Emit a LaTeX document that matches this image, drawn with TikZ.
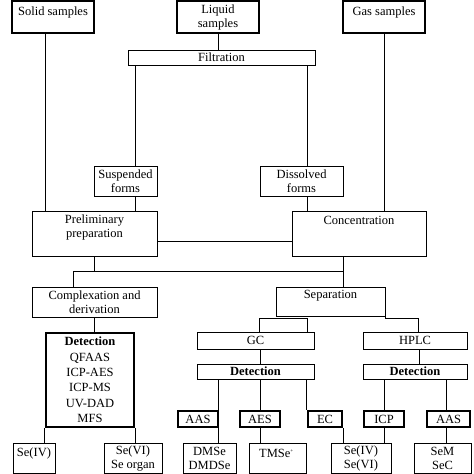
\documentclass[tikz,border=0pt]{standalone}
\usepackage{fontspec}
\setmainfont{Liberation Serif}
\begin{document}
\begin{tikzpicture}[x=1pt,y=-1pt,
  font=\fontsize{12.5}{14}\selectfont,
  box/.style={draw, line width=0.9pt, inner sep=0pt, align=center, fill=white},
  tbox/.style={box, line width=2.6pt},
  txt/.style={inner sep=0pt, align=center},
  conn/.style={line width=0.9pt}]
\clip (0,0) rectangle (474,474);
% top sample boxes
\node[tbox, minimum width=82pt, minimum height=32pt] (solid) at (53,17) {};
\node[txt] (solidt) at (53,12) {Solid samples};
\node[tbox, minimum width=82pt, minimum height=32pt] (liquid) at (218,17) {Liquid\\samples};
\node[tbox, minimum width=82pt, minimum height=32pt] (gas) at (384,17) {};
\node[txt] (gast) at (384,12) {Gas samples};
% filtration
\node[box, minimum width=187pt, minimum height=15pt] (filt) at (221.5,57.5) {Filtration};
\node[box, minimum width=63pt, minimum height=30pt] (susp) at (125.5,181) {Suspended\\forms};
\node[box, minimum width=83pt, minimum height=30pt] (diss) at (301.5,181) {Dissolved\\forms};
% preparation / concentration
\node[box, minimum width=125pt, minimum height=45pt] (prelim) at (94.5,233.5) {};
\node[txt] (prelimt) at (94.5,227.5) {Preliminary\\preparation};
\node[box, minimum width=134pt, minimum height=45pt] (conc) at (359,233.5) {};
\node[txt] (conct) at (359,220) {Concentration};
% complexation / separation
\node[box, minimum width=125pt, minimum height=30pt] (comp) at (94.5,302) {Complexation and\\derivation};
\node[box, minimum width=109pt, minimum height=29pt] (sep) at (330.5,301.5) {};
\node[txt] (sept) at (330.5,296) {Separation};
% GC / HPLC
\node[box, minimum width=117pt, minimum height=17pt] (gc) at (255.5,340.5) {GC};
\node[box, minimum width=104pt, minimum height=17pt] (hplc) at (415,340.5) {HPLC};
\node[box, minimum width=117pt, minimum height=15pt] (detgc) at (255.5,371.5) {\textbf{Detection}};
\node[box, minimum width=104pt, minimum height=15pt] (dethplc) at (415,371.5) {\textbf{Detection}};
% big detection box
\node[tbox, minimum width=88pt, minimum height=94pt, font=\fontsize{12.5}{15.4}\selectfont] (bigdet) at (90,380)
  {\textbf{Detection}\\QFAAS\\ICP-AES\\ICP-MS\\UV-DAD\\MFS};
% detector boxes
\node[tbox, minimum width=40pt, minimum height=16pt] (aas1) at (198,419) {AAS};
\node[tbox, minimum width=40pt, minimum height=16pt] (aes) at (260,419) {AES};
\node[tbox, minimum width=34pt, minimum height=16pt] (ec) at (325,419) {EC};
\node[tbox, minimum width=40pt, minimum height=16pt] (icp) at (384,419) {ICP};
\node[tbox, minimum width=43pt, minimum height=16pt] (aas2) at (448.5,419) {AAS};
% bottom boxes
\node[box, minimum width=42pt, minimum height=30.5pt] (b1) at (34,458.25) {};
\node[txt] (b1t) at (34,453) {Se(IV)};
\node[box, minimum width=58pt, minimum height=30.5pt] (b2) at (133,458.25) {Se(VI)\\Se organ};
\node[box, minimum width=53pt, minimum height=30.5pt] (b3) at (209.5,458.25) {DMSe\\DMDSe};
\node[box, minimum width=57pt, minimum height=30.5pt] (b4) at (277.5,458.25) {};
\node[txt] (b4t) at (276.5,453) {TMSe\textsuperscript{\fontsize{5pt}{5pt}\selectfont +}};
\node[box, minimum width=60pt, minimum height=30.5pt] (b5) at (361,458.25) {Se(IV)\\Se(VI)};
\node[box, minimum width=57pt, minimum height=30.5pt] (b6) at (442.5,458.25) {SeM\\SeC};
% bus coordinates
\coordinate (busL) at (73,271);
\coordinate (busR) at (343,271);
\coordinate (sepL) at (259,318);
\coordinate (sepM) at (307,318);
\coordinate (sepR) at (418,318);
% connectors
\draw[conn] ([xshift=-8pt]solid.south) -- ([xshift=-8pt]solid.south |- prelim.north);
\draw[conn] (liquid.south) -- (liquid.south |- filt.north);
\draw[conn] ([xshift=9.5pt]susp.north |- filt.south) -- ([xshift=9.5pt]susp.north);
\draw[conn] ([xshift=5.5pt]diss.north |- filt.south) -- ([xshift=5.5pt]diss.north);
\draw[conn] (gas.south) -- (gas.south |- conc.north);
\draw[conn] ([xshift=9.5pt]susp.south) -- ([xshift=9.5pt]susp.south |- prelim.north);
\draw[conn] ([xshift=5.5pt]diss.south) -- ([xshift=5.5pt]diss.south |- conc.north);
\draw[conn] ([yshift=-7.5pt]prelim.east) -- ([yshift=-7.5pt]prelim.east -| conc.west);
\draw[conn] (prelim.south) -- (prelim.south |- busL);
\draw[conn] (busL) -- (busR);
\draw[conn] (busL) -- (busL |- comp.north);
\draw[conn] ([xshift=-16pt]conc.south) -- ([xshift=-16pt]conc.south |- sep.north);
\draw[conn] (comp.south) -- (comp.south |- bigdet.north);
\draw[conn] (sepL |- gc.north) -- (sepL) -- (sepM) -- (sepM |- gc.north);
\draw[conn] (sep.south east) |- (sepR) -- (sepR |- hplc.north);
\draw[conn] ([xshift=4.5pt]gc.south) -- ([xshift=4.5pt]gc.south |- detgc.north);
\draw[conn] ([xshift=4pt]hplc.south) -- ([xshift=4pt]hplc.south |- dethplc.north);
\draw[conn] ([xshift=-1pt]aas1.north east |- detgc.south) -- ([xshift=-1pt]aas1.north east);
\draw[conn] ([xshift=-1pt]aas1.south east) -- ([xshift=-1pt]aas1.south east |- b3.north);
\draw[conn] (aes.north |- detgc.south) -- (aes.north);
\draw[conn] (aes.south) -- (aes.south |- b4.north);
\draw[conn] (ec.north west |- detgc.south) -- (ec.north west);
\draw[conn] (ec.south east) -- (ec.south east |- b5.north);
\draw[conn] (icp.north |- dethplc.south) -- (icp.north);
\draw[conn] (icp.south) -- (icp.south |- b5.north);
\draw[conn] ([xshift=-2.5pt]aas2.north |- dethplc.south) -- ([xshift=-2.5pt]aas2.north);
\draw[conn] ([xshift=-2.5pt]aas2.south) -- ([xshift=-2.5pt]aas2.south |- b6.north);
\draw[conn] (bigdet.south west) -- (bigdet.south west |- b1.north);
\draw[conn] (bigdet.south east) -- (bigdet.south east |- b2.north);
\end{tikzpicture}
\end{document}
